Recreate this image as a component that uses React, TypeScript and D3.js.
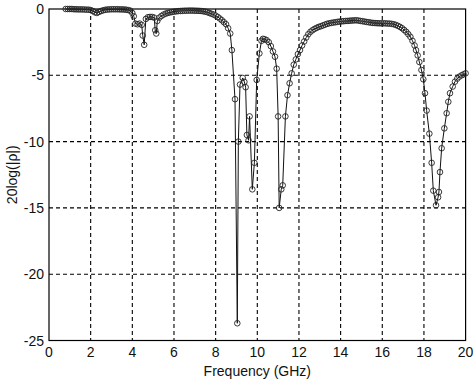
import React from "react";
import * as d3 from "d3";

const freqs = [
  0.8, 0.9, 1.0, 1.1, 1.2, 1.3, 1.4, 1.5, 1.6, 1.7, 1.8, 1.9, 2.0, 2.1, 2.2, 2.3, 2.4, 2.5, 2.6, 2.7, 2.8, 2.9,
  3.0, 3.1, 3.2, 3.3, 3.4, 3.5, 3.6, 3.7, 3.8, 3.9, 4.0, 4.07, 4.15, 4.25, 4.35, 4.45, 4.5, 4.57, 4.65, 4.75,
  4.85, 4.95, 5.05, 5.1, 5.15, 5.2, 5.3, 5.4, 5.5, 5.6, 5.7, 5.8, 5.9, 6.0, 6.1, 6.2, 6.3, 6.4, 6.5, 6.6, 6.7,
  6.8, 6.9, 7.0, 7.1, 7.2, 7.3, 7.4, 7.5, 7.6, 7.7, 7.8, 7.9, 8.0, 8.1, 8.2, 8.3, 8.4, 8.5, 8.6, 8.7, 8.78,
  8.93, 9.04, 9.09, 9.17, 9.3, 9.38, 9.44, 9.5, 9.58, 9.63, 9.76, 9.86, 9.97, 10.1, 10.2, 10.27, 10.35, 10.45,
  10.55, 10.65, 10.75, 10.85, 10.93, 11.0, 11.05, 11.15, 11.22, 11.35, 11.45, 11.55, 11.65, 11.75, 11.85,
  11.95, 12.05, 12.15, 12.25, 12.35, 12.45, 12.55, 12.65, 12.75, 12.85, 12.95, 13.05, 13.15, 13.25, 13.35,
  13.45, 13.55, 13.65, 13.75, 13.85, 13.95, 14.05, 14.15, 14.25, 14.35, 14.45, 14.55, 14.65, 14.75, 14.85,
  14.95, 15.05, 15.15, 15.25, 15.35, 15.45, 15.55, 15.65, 15.75, 15.85, 15.95, 16.05, 16.15, 16.25, 16.35,
  16.45, 16.55, 16.65, 16.75, 16.85, 16.95, 17.05, 17.15, 17.25, 17.35, 17.45, 17.55, 17.62, 17.7, 17.78,
  17.88, 17.97, 18.05, 18.13, 18.26, 18.37, 18.45, 18.58, 18.68, 18.72, 18.77, 18.85, 18.98, 19.09, 19.17,
  19.25, 19.38, 19.49, 19.6, 19.7, 19.81, 19.9, 20.0,
];

const reflection = [
  0, 0, 0, 0, -0.02, -0.02, -0.03, -0.03, -0.03, -0.04, -0.05, -0.05, -0.08, -0.15, -0.25, -0.3, -0.22, -0.15,
  -0.1, -0.06, -0.04, -0.03, -0.02, -0.02, -0.02, -0.02, -0.03, -0.03, -0.04, -0.05, -0.08, -0.12, -0.3,
  -0.55, -1.1, -1.15, -1.1, -1.2, -2.0, -2.7, -0.75, -0.62, -0.6, -0.6, -0.65, -1.6, -1.85, -0.9, -0.65,
  -0.52, -0.42, -0.35, -0.3, -0.26, -0.23, -0.2, -0.18, -0.16, -0.15, -0.14, -0.13, -0.13, -0.12, -0.12,
  -0.12, -0.13, -0.13, -0.14, -0.15, -0.17, -0.2, -0.24, -0.3, -0.36, -0.42, -0.5, -0.6, -0.72, -0.85, -1.0,
  -1.15, -1.45, -1.85, -3.1, -6.8, -23.7, -10.0, -5.7, -5.2, -5.5, -5.9, -9.5, -9.9, -8.1, -13.6, -11.6,
  -5.35, -3.35, -2.4, -2.25, -2.28, -2.35, -2.5, -2.8, -3.2, -3.6, -4.5, -8.1, -15.0, -13.6, -13.3, -8.1,
  -6.5, -5.6, -4.85, -4.2, -3.8, -3.4, -3.1, -2.75, -2.45, -2.15, -1.9, -1.72, -1.6, -1.5, -1.42, -1.35,
  -1.3, -1.24, -1.18, -1.12, -1.08, -1.05, -1.02, -1.0, -0.97, -0.95, -0.93, -0.92, -0.9, -0.9, -0.88,
  -0.87, -0.86, -0.85, -0.87, -0.9, -0.92, -0.95, -0.98, -1.0, -1.03, -1.05, -1.06, -1.07, -1.08, -1.08,
  -1.08, -1.08, -1.1, -1.1, -1.12, -1.15, -1.2, -1.27, -1.35, -1.45, -1.58, -1.72, -1.9, -2.1, -2.4, -2.75,
  -3.1, -3.5, -4.0, -4.6, -5.3, -6.35, -7.66, -9.4, -11.6, -13.7, -14.8, -14.2, -13.8, -12.3, -10.5, -9.0,
  -7.86, -7.0, -6.35, -5.85, -5.48, -5.25, -5.1, -5.0, -4.93, -4.85,
];

const xTicks = [0, 2, 4, 6, 8, 10, 12, 14, 16, 18, 20];
const yTicks = [0, -5, -10, -15, -20, -25];
const xLabel = "Frequency (GHz)";
const yLabel = "20log(|ρ|)";

export default function App() {
  const W = 474;
  const H = 383;
  const left = 49;
  const right = 465.6;
  const top = 9;
  const bottom = 340.5;
  const x = d3.scaleLinear().domain([0, 20]).range([left, right]);
  const y = d3.scaleLinear().domain([-25, 0]).range([bottom, top]);
  const pts: [number, number][] = freqs.map((f, i) => [f, reflection[i]]);
  const line = d3
    .line<[number, number]>()
    .x((d) => x(d[0]))
    .y((d) => y(d[1]));
  const font = "'Liberation Sans', Arial, sans-serif";

  return (
    <svg
      width={W}
      height={H}
      style={{ position: "absolute", left: 0, top: 0, background: "#fff" }}
      fontFamily={font}
    >
      <rect x={0} y={0} width={W} height={H} fill="#fff" />
      {/* grid */}
      {xTicks.slice(1, -1).map((t) => (
        <line
          key={"gx" + t}
          x1={x(t)}
          x2={x(t)}
          y1={top}
          y2={bottom}
          stroke="#000"
          strokeWidth={1.1}
          strokeDasharray="4,3"
        />
      ))}
      {yTicks.slice(1, -1).map((t) => (
        <line
          key={"gy" + t}
          x1={left}
          x2={right}
          y1={y(t)}
          y2={y(t)}
          stroke="#000"
          strokeWidth={1.1}
          strokeDasharray="4,3"
        />
      ))}
      {/* frame */}
      <rect
        x={left}
        y={top}
        width={right - left}
        height={bottom - top}
        fill="none"
        stroke="#000"
        strokeWidth={1.2}
      />
      {/* curve */}
      <path d={line(pts) || ""} fill="none" stroke="#111" strokeWidth={1} />
      {pts.map((d, i) => (
        <circle
          key={"m" + i}
          cx={x(d[0])}
          cy={y(d[1])}
          r={2.8}
          fill="none"
          stroke="#222"
          strokeWidth={0.9}
        />
      ))}
      {/* x tick labels */}
      {xTicks.map((t) => (
        <text
          key={"xt" + t}
          x={x(t)}
          y={357}
          fontSize={14}
          textAnchor="middle"
          fill="#111"
        >
          {t}
        </text>
      ))}
      {/* y tick labels */}
      {yTicks.map((t) => (
        <text
          key={"yt" + t}
          x={44}
          y={y(t) + 5}
          fontSize={14}
          textAnchor="end"
          fill="#111"
        >
          {t}
        </text>
      ))}
      <text x={(left + right) / 2} y={376} fontSize={14} textAnchor="middle" fill="#111">
        {xLabel}
      </text>
      <text
        transform={`translate(17,${(top + bottom) / 2}) rotate(-90)`}
        fontSize={14}
        textAnchor="middle"
        fill="#111"
      >
        {yLabel}
      </text>
    </svg>
  );
}
